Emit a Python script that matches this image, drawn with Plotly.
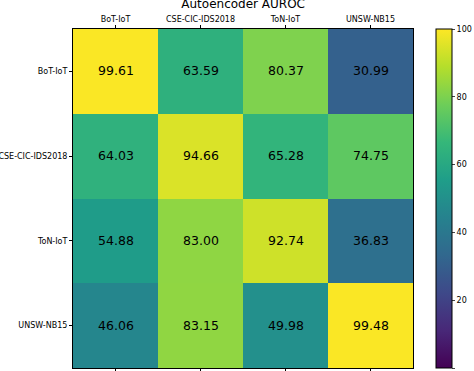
import plotly.graph_objects as go

rows = ["BoT-IoT", "CSE-CIC-IDS2018", "ToN-IoT", "UNSW-NB15"]
cols = ["BoT-IoT", "CSE-CIC-IDS2018", "ToN-IoT", "UNSW-NB15"]
values = [
    [99.61, 63.59, 80.37, 30.99],
    [64.03, 94.66, 65.28, 74.75],
    [54.88, 83.00, 92.74, 36.83],
    [46.06, 83.15, 49.98, 99.48],
]
text = [[f"{v:.2f}" for v in r] for r in values]
cbar_ticks = [0, 20, 40, 60, 80, 100]

fig = go.Figure(go.Heatmap(
    z=values, x=cols, y=rows, colorscale="Viridis", zmin=0, zmax=100,
    text=text, texttemplate="%{text}",
    textfont=dict(family="DejaVu Sans", size=12.5, color="black"),
    xgap=0, ygap=0,
    colorbar=dict(x=(436 - 73) / 340, xanchor="left", y=0.5, yanchor="middle", len=1.0,
                  lenmode="fraction", thickness=16, thicknessmode="pixels",
                  outlinewidth=1, outlinecolor="black", xpad=0, ypad=0,
                  tickvals=cbar_ticks, ticks="outside", ticklen=3,
                  tickfont=dict(family="DejaVu Sans", size=8, color="black")),
))
fig.update_layout(
    width=474, height=371,
    margin=dict(l=73, r=61, t=29, b=3, autoexpand=False),
    paper_bgcolor="white", plot_bgcolor="white",
    title=dict(text="Autoencoder AUROC", x=0.513, xanchor="center",
               yref="container", y=1.0, yanchor="top", pad=dict(t=0),
               font=dict(family="DejaVu Sans", size=12, color="black")),
    font=dict(family="DejaVu Sans", size=8, color="black"),
)
fig.update_xaxes(side="top", showline=True, linecolor="black", linewidth=1, mirror="allticks",
                 ticks="outside", ticklen=3, tickcolor="black", automargin=False,
                 tickfont=dict(size=8, color="black"))
fig.update_yaxes(autorange="reversed", showline=True, linecolor="black", linewidth=1, mirror=True,
                 ticks="outside", ticklen=3, tickcolor="black", automargin=False,
                 tickfont=dict(size=8, color="black"))
fig.write_html("out.html", config={"displayModeBar": False},
               post_script="document.body.style.margin='0';")
